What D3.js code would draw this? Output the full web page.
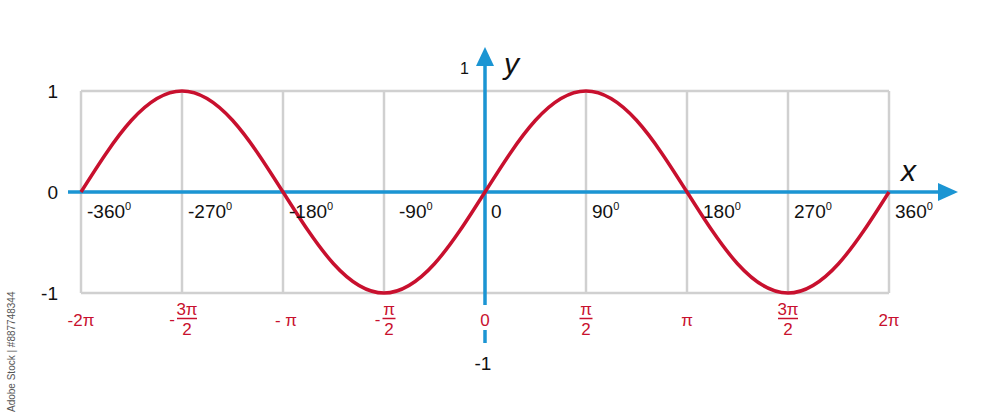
<!DOCTYPE html>
<html>
<head>
<meta charset="utf-8">
<script src="https://cdn.jsdelivr.net/npm/d3@7"></script>
<style>
  body { margin: 0; background: #fff; }
  svg { display: block; font-family: "Liberation Sans", Arial, sans-serif; }
</style>
</head>
<body>
<svg id="chart" width="1000" height="417"></svg>
<script>
const PI = Math.PI;

// grid positions in multiples of pi/2
const gridSteps = [-4, -3, -2, -1, 0, 1, 2, 3, 4];
const degreeLabels = ['-360', '-270', '-180', '-90', '0', '90', '180', '270', '360'];
const piLabels = ['-2π', '-3π/2', '- π', '-π/2', '0', 'π/2', 'π', '3π/2', '2π'];
const yTicks = [1, 0, -1];

// curve every pi/4
const curveX = [-8, -7, -6, -5, -4, -3, -2, -1, 0, 1, 2, 3, 4, 5, 6, 7, 8];
const curveY = [0, 0.71, 1, 0.71, 0, -0.71, -1, -0.71, 0, 0.71, 1, 0.71, 0, -0.71, -1, -0.71, 0];

const red = '#c8102e';
const blue = '#1b95d3';
const gray = '#d0d0d0';

const svg = d3.select('#chart');
const x = d3.scaleLinear().domain([-2 * PI, 2 * PI]).range([81, 889]);
const y = d3.scaleLinear().domain([-1, 1]).range([293, 91]);

// grid
svg.selectAll('.vgrid')
  .data(gridSteps)
  .join('line')
  .attr('x1', (d) => x((d * PI) / 2))
  .attr('x2', (d) => x((d * PI) / 2))
  .attr('y1', y(1))
  .attr('y2', y(-1))
  .attr('stroke', gray)
  .attr('stroke-width', 2.5);
svg.selectAll('.hgrid')
  .data(yTicks)
  .join('line')
  .attr('x1', x(-2 * PI))
  .attr('x2', x(2 * PI))
  .attr('y1', (d) => y(d))
  .attr('y2', (d) => y(d))
  .attr('stroke', gray)
  .attr('stroke-width', 2.5);

// axes
svg.append('line')
  .attr('x1', 68).attr('x2', 942)
  .attr('y1', y(0)).attr('y2', y(0))
  .attr('stroke', blue).attr('stroke-width', 3.5);
svg.append('path')
  .attr('d', `M958,${y(0)} L938,${y(0) - 9} L938,${y(0) + 9} Z`)
  .attr('fill', blue);

svg.append('line')
  .attr('x1', x(0)).attr('x2', x(0))
  .attr('y1', 62).attr('y2', 305)
  .attr('stroke', blue).attr('stroke-width', 3.5);
svg.append('line')
  .attr('x1', x(0)).attr('x2', x(0))
  .attr('y1', 330).attr('y2', 343)
  .attr('stroke', blue).attr('stroke-width', 3.5);
svg.append('path')
  .attr('d', `M${x(0)},47 L${x(0) - 9},66 L${x(0) + 9},66 Z`)
  .attr('fill', blue);

// sine curve
const line = d3.line()
  .x((d, i) => x((curveX[i] * PI) / 4))
  .y((d) => y(d))
  .curve(d3.curveNatural);
svg.append('path')
  .datum(curveY)
  .attr('d', line)
  .attr('fill', 'none')
  .attr('stroke', red)
  .attr('stroke-width', 3.5);

// y labels
svg.selectAll('.ylab')
  .data(yTicks)
  .join('text')
  .attr('x', 58)
  .attr('y', (d) => y(d) + 7)
  .attr('text-anchor', 'end')
  .attr('font-size', 19)
  .attr('fill', '#111')
  .text((d) => d);

// degree labels
const degOffset = { '-90': 15, '180': 16 };
const deg = svg.selectAll('.deg')
  .data(degreeLabels)
  .join('text')
  .attr('x', (d, i) => x((gridSteps[i] * PI) / 2) + (degOffset[d] || 6))
  .attr('y', 218)
  .attr('font-size', 19)
  .attr('fill', '#111');
deg.append('tspan').text((d) => d);
deg.filter((d) => d !== '0')
  .append('tspan')
  .attr('font-size', 11)
  .attr('dy', -8)
  .text('0');

// pi labels
piLabels.forEach((lab, i) => {
  const cx = x((gridSteps[i] * PI) / 2);
  const g = svg.append('g').attr('fill', red).attr('font-size', 17);
  if (lab.includes('/')) {
    let neg = lab.startsWith('-');
    let parts = lab.replace('-', '').split('/');
    let fx = neg ? cx + 5 : cx;
    let half = parts[0].length > 1 ? 10 : 6.5;
    if (neg) {
      g.append('text').attr('x', fx - half - 2).attr('y', 325).attr('text-anchor', 'end').text('-');
    }
    g.append('text').attr('x', fx).attr('y', 315).attr('text-anchor', 'middle').text(parts[0]);
    g.append('line')
      .attr('x1', fx - half)
      .attr('x2', fx + half)
      .attr('y1', 318.5).attr('y2', 318.5)
      .attr('stroke', red).attr('stroke-width', 1.5);
    g.append('text').attr('x', fx).attr('y', 335).attr('text-anchor', 'middle').text(parts[1]);
  } else {
    g.append('text')
      .attr('x', lab === '- π' ? cx + 3 : cx)
      .attr('y', 326)
      .attr('text-anchor', 'middle')
      .text(lab);
  }
});

// axis captions
svg.append('text').attr('x', 483).attr('y', 370).attr('text-anchor', 'middle')
  .attr('font-size', 19).attr('fill', '#111').text('-1');
svg.append('text').attr('x', 469).attr('y', 74).attr('text-anchor', 'end')
  .attr('font-size', 16).attr('fill', '#111').text('1');
svg.append('text').attr('x', 504).attr('y', 74)
  .attr('font-size', 30).attr('font-style', 'italic').attr('fill', '#111').text('y');
svg.append('text').attr('x', 901).attr('y', 181)
  .attr('font-size', 30).attr('font-style', 'italic').attr('fill', '#111').text('x');

// stock id
svg.append('text')
  .attr('transform', 'translate(15,412) rotate(-90)')
  .attr('font-size', 10).attr('fill', '#555')
  .text('Adobe Stock | #887748344');
</script>
</body>
</html>
